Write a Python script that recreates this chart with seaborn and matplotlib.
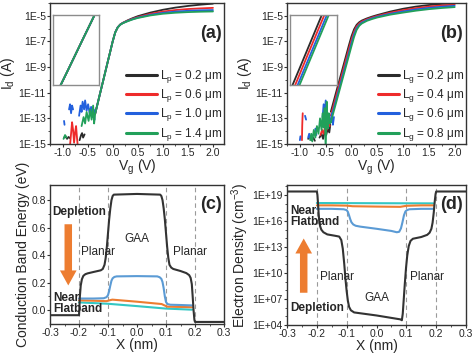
import numpy as np
import pandas as pd
import matplotlib
matplotlib.use("Agg")
import matplotlib.pyplot as plt
import seaborn as sns
from matplotlib.lines import Line2D
from matplotlib.ticker import NullFormatter

sns.set_style("ticks")
plt.rcParams['font.family'] = ['Liberation Sans', 'DejaVu Sans']
plt.rcParams['mathtext.fontset'] = 'custom'
plt.rcParams['mathtext.rm'] = 'Liberation Sans'
plt.rcParams['mathtext.it'] = 'Liberation Sans:italic'
plt.rcParams['mathtext.bf'] = 'Liberation Sans:bold'
plt.rcParams['axes.unicode_minus'] = False

# ---------------- data: panel (a) ----------------
SERIES_A = ["L$_\\mathrm{p}$ = 0.2 μm", "L$_\\mathrm{p}$ = 0.6 μm", "L$_\\mathrm{p}$ = 1.0 μm", "L$_\\mathrm{p}$ = 1.4 μm"]
VG_ON_A = [-0.35, -0.30, -0.25, -0.20, -0.15, -0.10, -0.05, 0.00, 0.05, 0.10, 0.15, 0.20,
           0.30, 0.40, 0.50, 0.75, 1.00, 1.25, 1.50, 1.75, 2.00]
LOGID_A_1 = [-12.65, -11.84, -11.03, -10.23, -9.42, -8.61, -7.81, -7.00, -6.30, -5.90, -5.68, -5.55,
             -5.35, -5.18, -5.03, -4.75, -4.53, -4.36, -4.23, -4.13, -4.05]
LOGID_A_2 = [-12.65, -11.84, -11.03, -10.23, -9.42, -8.61, -7.81, -7.00, -6.30, -5.90, -5.68, -5.56,
             -5.38, -5.23, -5.10, -4.85, -4.67, -4.55, -4.47, -4.42, -4.38]
LOGID_A_3 = [-12.65, -11.84, -11.03, -10.23, -9.42, -8.61, -7.81, -7.00, -6.30, -5.90, -5.69, -5.57,
             -5.40, -5.26, -5.14, -4.92, -4.77, -4.67, -4.61, -4.57, -4.55]
LOGID_A_4 = [-12.65, -11.84, -11.03, -10.23, -9.42, -8.61, -7.81, -7.00, -6.30, -5.91, -5.70, -5.58,
             -5.42, -5.28, -5.17, -4.97, -4.84, -4.76, -4.71, -4.68, -4.66]
NOISE_A_1 = [[(-0.97, -14.5), (-0.94, -14.4), (-0.91, -14.6), (-0.88, -14.45), (-0.85, -14.55)],
             [(-0.66, -14.7), (-0.63, -14.3), (-0.61, -14.15), (-0.59, -14.5), (-0.56, -14.25)]]
NOISE_A_2 = [[(-0.86, -15.5), (-0.83, -14.2), (-0.81, -13.3), (-0.79, -13.9), (-0.77, -14.9),
              (-0.75, -14.1), (-0.73, -13.6), (-0.71, -14.6), (-0.69, -15.4)]]
NOISE_A_3 = [[(-0.97, -13.2), (-0.96, -13.5)],
             [(-0.87, -12.3), (-0.85, -11.9), (-0.83, -12.6), (-0.81, -12.0), (-0.79, -12.3)],
             [(-0.67, -12.8), (-0.64, -12.0), (-0.62, -12.5), (-0.60, -11.7), (-0.57, -12.3),
              (-0.55, -11.6), (-0.52, -12.4), (-0.49, -11.9), (-0.46, -12.6), (-0.43, -12.1),
              (-0.40, -12.9), (-0.38, -12.3), (-0.36, -13.1)]]
NOISE_A_4 = [[(-0.98, -14.6), (-0.95, -14.3), (-0.92, -14.5)],
             [(-0.62, -13.6), (-0.58, -12.9), (-0.55, -13.4), (-0.52, -12.5), (-0.48, -13.2),
              (-0.45, -12.3), (-0.42, -13.1), (-0.39, -12.0), (-0.37, -13.4), (-0.35, -12.65)]]

# ---------------- data: panel (b) ----------------
SERIES_B = ["L$_\\mathrm{g}$ = 0.2 μm", "L$_\\mathrm{g}$ = 0.4 μm", "L$_\\mathrm{g}$ = 0.6 μm", "L$_\\mathrm{g}$ = 0.8 μm"]
VG_ON_B = [-0.40, -0.35, -0.30, -0.25, -0.20, -0.15, -0.10, -0.05, 0.00, 0.05, 0.10, 0.15, 0.20,
           0.30, 0.40, 0.50, 0.75, 1.00, 1.25, 1.50, 1.75, 2.00]
LOGID_B_1 = [-12.48, -11.74, -10.99, -10.26, -9.52, -8.78, -8.04, -7.30, -6.60, -6.05, -5.70, -5.50, -5.37,
             -5.20, -5.06, -4.94, -4.67, -4.45, -4.28, -4.16, -4.07, -4.02]
LOGID_B_2 = [-12.78, -12.04, -11.30, -10.56, -9.81, -9.07, -8.33, -7.60, -6.87, -6.25, -5.83, -5.60, -5.45,
             -5.27, -5.13, -5.01, -4.76, -4.56, -4.40, -4.28, -4.19, -4.12]
LOGID_B_3 = [-13.07, -12.33, -11.59, -10.85, -10.11, -9.37, -8.63, -7.89, -7.15, -6.45, -5.97, -5.70, -5.53,
             -5.33, -5.19, -5.07, -4.84, -4.66, -4.50, -4.38, -4.29, -4.22]
LOGID_B_4 = [-13.30, -12.55, -11.81, -11.07, -10.33, -9.59, -8.85, -8.11, -7.37, -6.65, -6.10, -5.78, -5.60,
             -5.39, -5.25, -5.13, -4.91, -4.75, -4.60, -4.48, -4.39, -4.32]
NOISE_B_1 = [[(-0.84, -14.6), (-0.80, -14.4), (-0.77, -14.7), (-0.74, -14.5), (-0.71, -14.75)],
             [(-0.62, -14.5), (-0.58, -14.2), (-0.55, -14.6), (-0.52, -14.0), (-0.49, -14.3),
              (-0.46, -13.8), (-0.43, -14.1), (-0.41, -13.5)]]
NOISE_B_2 = [[(-0.96, -14.7), (-0.955, -13.6), (-0.95, -13.0), (-0.945, -12.6)],
             [(-0.78, -14.6), (-0.76, -14.4)],
             [(-0.60, -14.3), (-0.57, -13.9), (-0.54, -14.2), (-0.51, -13.6), (-0.48, -13.9),
              (-0.45, -13.3), (-0.42, -13.6)]]
NOISE_B_3 = [[(-1.00, -14.7), (-0.99, -14.4)],
             [(-0.90, -12.8), (-0.88, -13.1)],
             [(-0.84, -14.5), (-0.82, -14.2), (-0.80, -14.6)],
             [(-0.70, -13.8), (-0.68, -14.3)],
             [(-0.56, -12.9), (-0.54, -11.9), (-0.52, -12.8), (-0.50, -11.6), (-0.48, -12.5)],
             [(-0.40, -13.3), (-0.38, -12.6), (-0.36, -13.5), (-0.34, -12.9)]]
NOISE_B_4 = [[(-0.80, -14.7), (-0.78, -14.2), (-0.76, -14.8), (-0.73, -13.9), (-0.70, -14.5),
              (-0.67, -13.6), (-0.64, -14.2), (-0.61, -13.0), (-0.58, -13.9), (-0.56, -12.6),
              (-0.54, -13.7), (-0.52, -12.2), (-0.50, -15.5), (-0.48, -11.7), (-0.46, -13.8),
              (-0.44, -12.6), (-0.42, -13.4), (-0.40, -13.30)]]

IV_COLORS = ["#2b2b2b", "#ee2b2b", "#2360dd", "#22a05a"]
IV_XTICKS = [-1.0, -0.5, 0.0, 0.5, 1.0, 1.5, 2.0]
IV_XTICKLABELS = ["-1.0", "-0.5", "0.0", "0.5", "1.0", "1.5", "2.0"]
IV_YTICKS = [1e-15, 1e-13, 1e-11, 1e-9, 1e-7, 1e-5]
IV_YTICKLABELS = ["1E-15", "1E-13", "1E-11", "1E-9", "1E-7", "1E-5"]

# ---------------- data: panel (c) ----------------
BAND_NAMES = ["depletion", "mid", "near1", "near2"]
BAND_COLORS = ["#333333", "#5b9bd5", "#ed7d31", "#33c7c4"]
X_C_1 = [-0.30, -0.200, -0.199, -0.197, -0.194, -0.190, -0.185, -0.178, -0.170, -0.150, -0.125, -0.118,
         -0.112, -0.108, -0.104, -0.100, -0.096, -0.092, -0.088, -0.084, -0.080, 0.0, 0.080, 0.084, 0.088,
         0.092, 0.096, 0.100, 0.104, 0.108, 0.112, 0.118, 0.125, 0.150, 0.170, 0.180, 0.185, 0.189, 0.192,
         0.195, 0.198, 0.200, 0.30]
E_C_1 = [-0.036, -0.036, 0.00, 0.10, 0.18, 0.225, 0.25, 0.262, 0.268, 0.278, 0.29, 0.30,
         0.33, 0.38, 0.46, 0.56, 0.66, 0.74, 0.80, 0.83, 0.84, 0.845, 0.84, 0.83, 0.80,
         0.74, 0.66, 0.56, 0.46, 0.38, 0.33, 0.31, 0.30, 0.285, 0.27, 0.255, 0.235, 0.19, 0.10,
         0.0, -0.07, -0.085, -0.085]
X_C_2 = [-0.200, -0.150, -0.115, -0.105, -0.100, -0.096, -0.092, -0.088, -0.084, -0.078, -0.070, 0.0,
         0.070, 0.078, 0.084, 0.088, 0.092, 0.096, 0.100, 0.105, 0.115, 0.150, 0.190]
E_C_2 = [0.085, 0.085, 0.087, 0.095, 0.11, 0.14, 0.18, 0.215, 0.232, 0.242, 0.246, 0.248,
         0.246, 0.240, 0.228, 0.205, 0.16, 0.10, 0.06, 0.045, 0.040, 0.038, 0.035]
X_C_3 = [-0.200, -0.150, -0.105, -0.095, -0.085, 0.0, 0.085, 0.095, 0.105, 0.150, 0.190]
E_C_3 = [0.072, 0.069, 0.066, 0.072, 0.077, 0.062, 0.045, 0.035, 0.026, 0.024, 0.022]
X_C_4 = [-0.200, -0.100, 0.0, 0.100, 0.190]
E_C_4 = [0.057, 0.047, 0.030, 0.012, 0.004]

# ---------------- data: panel (d) ----------------
X_D_1 = [-0.30, -0.200, -0.198, -0.196, -0.194, -0.192, -0.189, -0.185, -0.178, -0.165, -0.140, -0.125,
         -0.118, -0.113, -0.108, -0.104, -0.100, -0.096, -0.092, -0.086, -0.075, 0.0, 0.080, 0.085,
         0.088, 0.091, 0.095, 0.099, 0.103, 0.108, 0.114, 0.122, 0.150, 0.170, 0.178, 0.184, 0.188,
         0.192, 0.195, 0.198, 0.200, 0.30]
LOGN_D_1 = [19.4, 19.4, 19.0, 18.0, 16.9, 16.0, 15.4, 15.0, 14.7, 14.45, 14.3, 14.2,
            13.8, 12.8, 11.0, 9.3, 7.9, 6.8, 6.1, 5.7, 5.45, 5.1, 4.65, 4.55,
            5.3, 6.8, 8.8, 10.6, 12.0, 13.1, 13.7, 13.95, 14.15, 14.4, 14.65, 15.1, 15.8,
            17.0, 18.2, 19.1, 19.4, 19.4]
X_D_2 = [-0.200, -0.150, -0.110, -0.100, -0.096, -0.092, -0.088, -0.084, -0.078, -0.070, -0.055, 0.0,
         0.050, 0.068, 0.076, 0.082, 0.087, 0.092, 0.097, 0.102, 0.110, 0.150, 0.190]
LOGN_D_2 = [17.4, 17.4, 17.35, 17.25, 17.05, 16.65, 16.2, 15.85, 15.6, 15.45, 15.35, 15.1,
            14.85, 14.7, 14.75, 15.15, 15.85, 16.65, 17.1, 17.25, 17.35, 17.4, 17.4]
X_D_3 = [-0.200, -0.150, -0.100, -0.080, 0.0, 0.080, 0.100, 0.150, 0.190]
LOGN_D_3 = [17.8, 17.8, 17.77, 17.7, 17.66, 17.63, 17.75, 17.8, 17.8]
X_D_4 = [-0.200, 0.0, 0.190]
LOGN_D_4 = [18.07, 18.05, 18.03]

POS_XTICKS = [-0.3, -0.2, -0.1, 0.0, 0.1, 0.2, 0.3]
POS_XTICKLABELS = ["-0.3", "-0.2", "-0.1", "0.0", "0.1", "0.2", "0.3"]
C_YTICKS = [0.0, 0.2, 0.4, 0.6, 0.8]
C_YTICKLABELS = ["0.0", "0.2", "0.4", "0.6", "0.8"]
D_YTICKS = [1e4, 1e7, 1e10, 1e13, 1e16, 1e19]
D_YTICKLABELS = ["1E+04", "1E+07", "1E+10", "1E+13", "1E+16", "1E+19"]
REGION_EDGES = [-0.2, -0.1, 0.1, 0.2]
ORANGE = "#ed7d31"

TICK_FS = 7.5
LABEL_FS = 10
ANN_FS = 8.5

fig = plt.figure(figsize=(4.74, 3.59), dpi=100)
ax_a = fig.add_axes([50/474, 1-144/359, 174/474, 141/359])
ax_b = fig.add_axes([287/474, 1-144/359, 179/474, 141/359])
ax_c = fig.add_axes([50/474, 1-324/359, 174/474, 139/359])
ax_d = fig.add_axes([287/474, 1-325/359, 179/474, 140/359])


def style_axes(ax):
    for s in ax.spines.values():
        s.set_color("#333333")
        s.set_linewidth(1.0)
    ax.tick_params(which='major', direction='out', length=2, width=0.8, labelsize=TICK_FS, pad=1,
                   color="#333333")
    ax.tick_params(which='minor', direction='out', length=1.2, width=0.6, color="#333333")


def build_iv(names, vg, logs, noises):
    rows = []
    for name, lg, nz in zip(names, logs, noises):
        for v, l in zip(vg, lg):
            rows.append((name, name + "_on", v, 10.0 ** l))
        for k, seg in enumerate(nz):
            for v, l in seg:
                rows.append((name, name + "_n%d" % k, v, 10.0 ** l))
    return pd.DataFrame(rows, columns=["series", "seg", "Vg", "Id"])


def iv_panel(ax, names, vg, logs, noises, inset_xlim, inset_ylim, label, hlen):
    df = build_iv(names, vg, logs, noises)
    pal = dict(zip(names, IV_COLORS))
    sns.lineplot(data=df, x="Vg", y="Id", hue="series", hue_order=names, units="seg",
                 estimator=None, sort=False, palette=pal, lw=1.3, legend=False, ax=ax)
    ax.set_yscale("log")
    ax.set_xlim(-1.25, 2.22)
    ax.set_ylim(1e-15, 1e-4)
    ax.set_xticks(IV_XTICKS)
    ax.set_xticklabels(IV_XTICKLABELS)
    ax.set_xticks([-1.25, -0.75, -0.25, 0.25, 0.75, 1.25, 1.75], minor=True)
    ax.set_yticks(IV_YTICKS)
    ax.set_yticklabels(IV_YTICKLABELS)
    ax.set_yticks([10.0 ** e for e in range(-14, -3, 2)], minor=True)
    ax.yaxis.set_minor_formatter(NullFormatter())
    ax.set_xlabel("V$_\\mathrm{g}$ (V)", fontsize=LABEL_FS, labelpad=0)
    ax.set_ylabel("I$_\\mathrm{d}$ (A)", fontsize=LABEL_FS, labelpad=1)
    style_axes(ax)
    handles = [Line2D([0], [0], color=c, lw=2.2) for c in IV_COLORS]
    ax.legend(handles, names, loc="lower right", frameon=False, fontsize=ANN_FS,
              handlelength=hlen, handletextpad=0.3, labelspacing=0.2, borderaxespad=0.0,
              borderpad=0.1)
    ax.text(0.985, 0.787, label, transform=ax.transAxes, ha="right", va="center",
            fontsize=13, fontweight="bold")
    # inset
    ins = ax.inset_axes([0.017, 0.418, 0.263, 0.497])
    on = df[df["seg"].str.endswith("_on")]
    sns.lineplot(data=on, x="Vg", y="Id", hue="series", hue_order=names, units="seg",
                 estimator=None, sort=False, palette=pal, lw=1.3, legend=False, ax=ins)
    ins.set_yscale("log")
    ins.set_xlim(*inset_xlim)
    ins.set_ylim(*inset_ylim)
    ins.set_xticks([]); ins.set_yticks([])
    ins.set_xticks([], minor=True); ins.set_yticks([], minor=True)
    ins.set_xlabel(""); ins.set_ylabel("")
    for s in ins.spines.values():
        s.set_color("#8c8c8c")
        s.set_linewidth(1.0)


iv_panel(ax_a, SERIES_A, VG_ON_A, [LOGID_A_1, LOGID_A_2, LOGID_A_3, LOGID_A_4],
         [NOISE_A_1, NOISE_A_2, NOISE_A_3, NOISE_A_4], (-0.30, 0.0), (10 ** -11.02, 10 ** -7.44), "(a)", 2.6)
iv_panel(ax_b, SERIES_B, VG_ON_B, [LOGID_B_1, LOGID_B_2, LOGID_B_3, LOGID_B_4],
         [NOISE_B_1, NOISE_B_2, NOISE_B_3, NOISE_B_4], (-0.32, 0.05), (1e-11, 10 ** -7.6), "(b)", 1.8)


def build_pos(xs, vals, transform):
    rows = []
    for name, x, v in zip(BAND_NAMES, xs, vals):
        for xi, vi in zip(x, v):
            rows.append((name, xi, transform(vi)))
    return pd.DataFrame(rows, columns=["curve", "X", "val"])


def pos_panel(ax, df, label):
    for xe in REGION_EDGES:
        ax.axvline(xe, color="#9a9a9a", ls=(0, (4, 3)), lw=0.8, zorder=0)
    pal = dict(zip(BAND_NAMES, BAND_COLORS))
    order = ["near2", "near1", "mid", "depletion"]
    sns.lineplot(data=df, x="X", y="val", hue="curve", hue_order=order, estimator=None,
                 sort=False, palette=pal, lw=1.5, legend=False, ax=ax)
    ax.set_xlim(-0.3, 0.3)
    ax.set_xticks(POS_XTICKS)
    ax.set_xticklabels(POS_XTICKLABELS)
    ax.set_xticks([-0.25, -0.15, -0.05, 0.05, 0.15, 0.25], minor=True)
    ax.set_xlabel("X (nm)", fontsize=LABEL_FS, labelpad=0)
    style_axes(ax)
    ax.text(0.985, 0.86, label, transform=ax.transAxes, ha="right", va="center",
            fontsize=13, fontweight="bold")


ARROW = "simple,head_width=1.0,head_length=0.9,tail_width=0.45"

# (c)
df_c = build_pos([X_C_1, X_C_2, X_C_3, X_C_4], [E_C_1, E_C_2, E_C_3, E_C_4], lambda v: v)
pos_panel(ax_c, df_c, "(c)")
ax_c.set_ylim(-0.10, 0.91)
ax_c.set_yticks(C_YTICKS)
ax_c.set_yticklabels(C_YTICKLABELS)
ax_c.set_yticks([0.1, 0.3, 0.5, 0.7], minor=True)
ax_c.set_ylabel("Conduction Band Energy (eV)", fontsize=LABEL_FS, labelpad=1)
ax_c.text(-0.293, 0.715, "Depletion", fontsize=ANN_FS, fontweight="bold", ha="left", va="center")
ax_c.annotate("", xy=(-0.237, 0.16), xytext=(-0.237, 0.645),
              arrowprops=dict(arrowstyle=ARROW, color=ORANGE, lw=0, mutation_scale=12))
ax_c.text(-0.288, 0.048, "Near\nFlatband", fontsize=ANN_FS, fontweight="bold", ha="left",
          va="center", linespacing=0.85)
ax_c.text(-0.136, 0.424, "Planar", fontsize=ANN_FS, ha="center", va="center")
ax_c.text(0.0, 0.52, "GAA", fontsize=ANN_FS, ha="center", va="center")
ax_c.text(0.183, 0.424, "Planar", fontsize=ANN_FS, ha="center", va="center")

# (d)
df_d = build_pos([X_D_1, X_D_2, X_D_3, X_D_4], [LOGN_D_1, LOGN_D_2, LOGN_D_3, LOGN_D_4],
                 lambda v: 10.0 ** v)
pos_panel(ax_d, df_d, "(d)")
ax_d.set_yscale("log")
ax_d.set_ylim(1e4, 10 ** 20.15)
ax_d.set_yticks(D_YTICKS)
ax_d.set_yticklabels(D_YTICKLABELS)
ax_d.set_yticks([10.0 ** e for e in range(5, 21) if e % 3 != 1], minor=True)
ax_d.yaxis.set_minor_formatter(NullFormatter())
ax_d.set_ylabel("Electron Density (cm$^{-3}$)", fontsize=LABEL_FS, labelpad=1)
ax_d.text(-0.29, 10 ** 16.5, "Near\nFlatband", fontsize=ANN_FS, fontweight="bold", ha="left",
          va="center", linespacing=0.85)
ax_d.annotate("", xy=(-0.244, 10 ** 14.3), xytext=(-0.244, 10 ** 7.4),
              arrowprops=dict(arrowstyle=ARROW, color=ORANGE, lw=0, mutation_scale=12))
ax_d.text(-0.29, 10 ** 5.93, "Depletion", fontsize=ANN_FS, fontweight="bold", ha="left", va="center")
ax_d.text(-0.133, 10 ** 9.57, "Planar", fontsize=ANN_FS, ha="center", va="center")
ax_d.text(0.0, 10 ** 7.08, "GAA", fontsize=ANN_FS, ha="center", va="center")
ax_d.text(0.169, 10 ** 9.57, "Planar", fontsize=ANN_FS, ha="center", va="center")

fig.savefig("out.png", dpi=100)
